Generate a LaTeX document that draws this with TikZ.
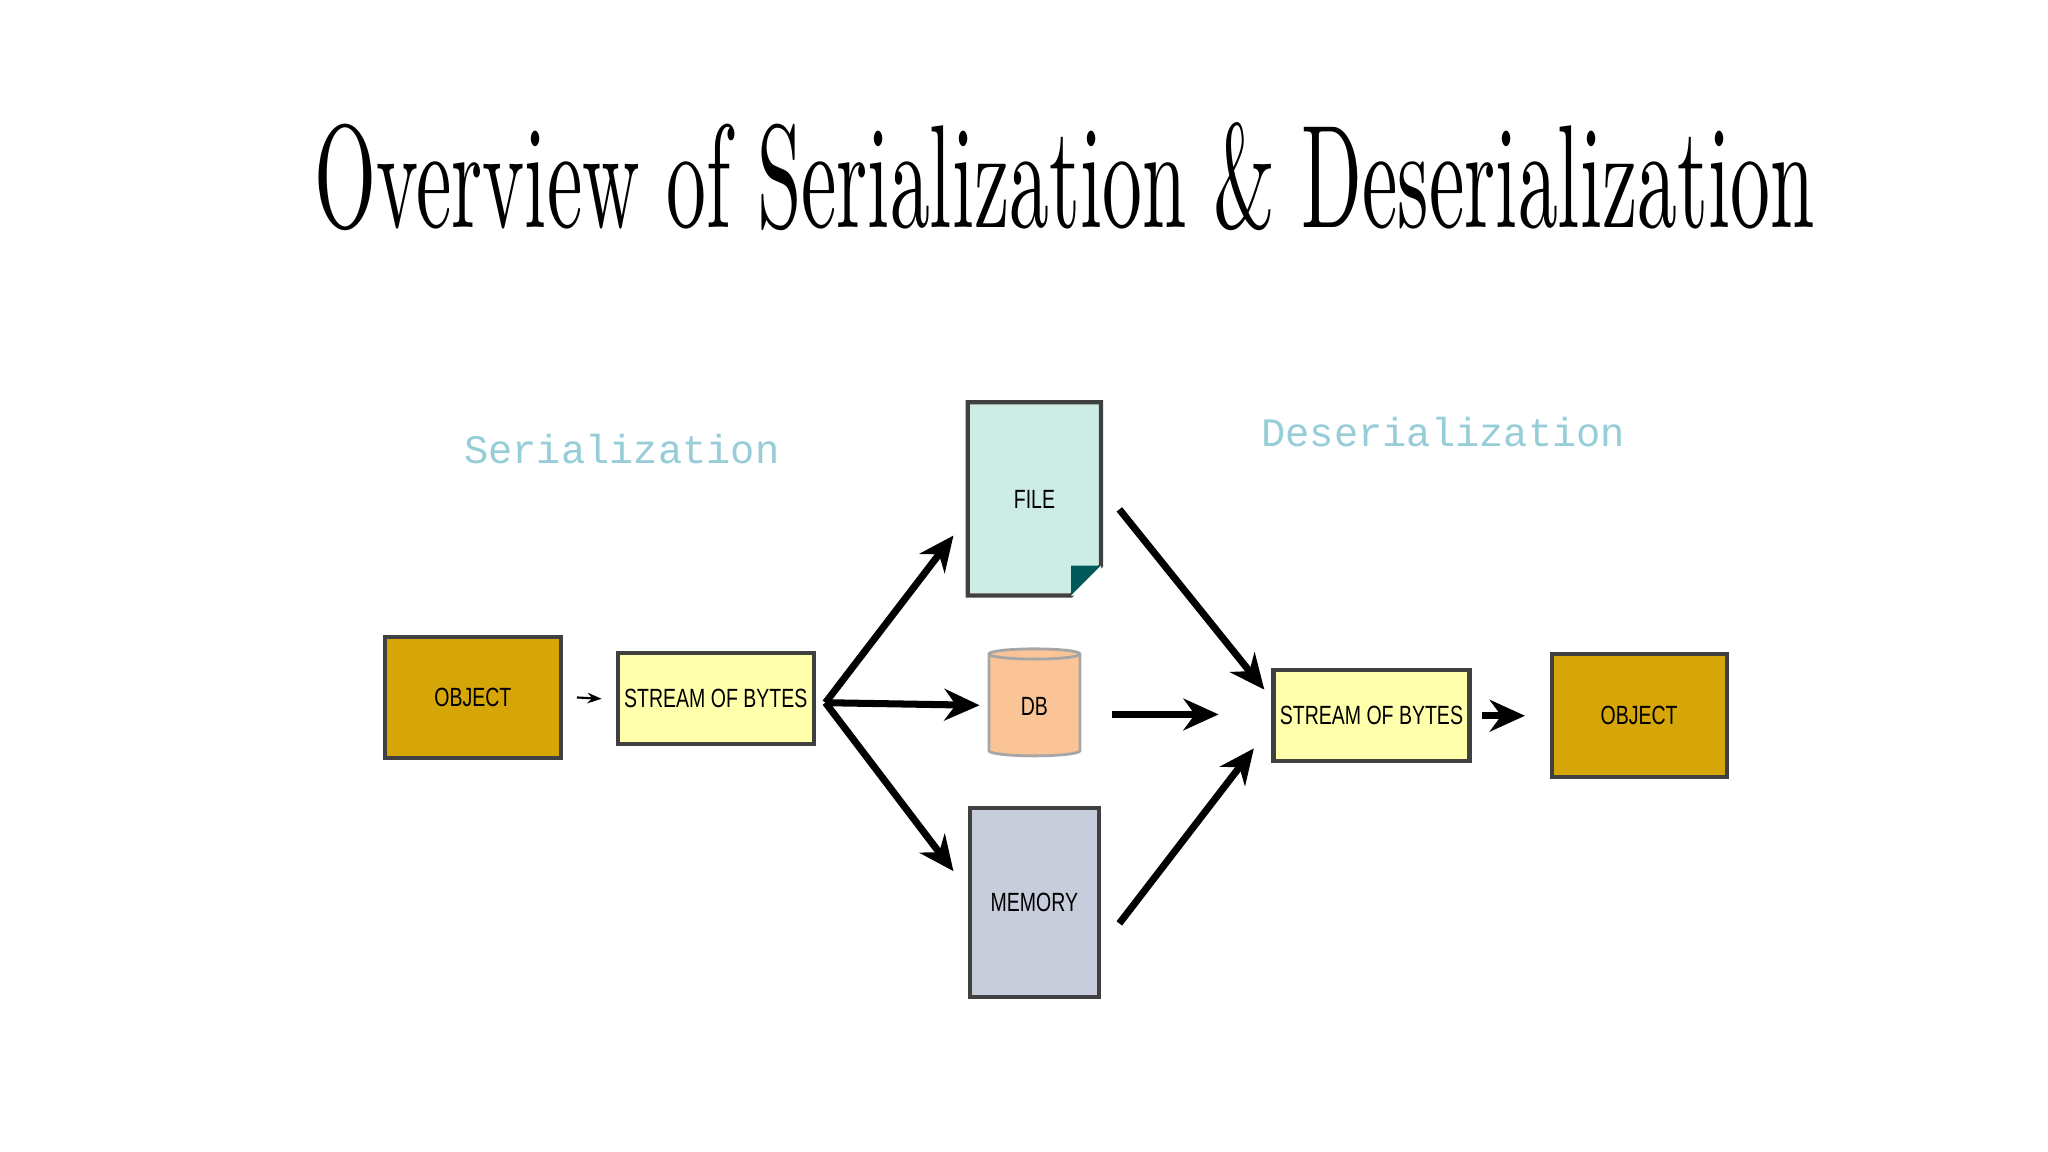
\documentclass[tikz,border=0pt]{standalone}
\usepackage{fontspec}
\setmainfont{Liberation Sans}
\newfontfamily\titlefont{Latin Modern Roman}
\newfontfamily\labelfont{Liberation Mono}
\usetikzlibrary{positioning,shapes.geometric,arrows.meta}
\definecolor{objgold}{RGB}{214,166,8}
\definecolor{streamyel}{RGB}{255,255,172}
\definecolor{filecyan}{RGB}{206,236,230}
\definecolor{dborange}{RGB}{250,196,150}
\definecolor{memgray}{RGB}{200,205,220}
\definecolor{sertext}{RGB}{150,205,215}
\newcommand{\boxtext}[1]{\scalebox{0.74}[1]{#1}}
\tikzset{
  box/.style={rectangle,draw=black!75,line width=1.2pt,inner sep=1pt,font=\fontsize{7.5}{9}\selectfont},
  bigarrow/.style={-{Stealth[length=10pt,width=9pt]},line width=2pt},
  phase/.style={font=\labelfont\fontsize{11.5}{14}\selectfont,text=sertext}
}
\begin{document}
\begin{tikzpicture}[x=0.01306cm,y=-0.01306cm]
	\useasboundingbox (0,0) rectangle (1568,882);
	\fill[white] (0,0) rectangle (1568,882);
	
	\node (title) at (815,135) {\resizebox{15cm}{1.05cm}{\titlefont\textsc{Overview of Serialization \& Deserialization}}};
	
	\begin{scope}
	\node[phase] (ser) at (476,344) {Serialization};
	\node[phase] (deser) at (1105,331) {Deserialization};
	\end{scope}
	
	\begin{scope}
	\node[box,fill=objgold,minimum width=1.76cm,minimum height=1.21cm] (obj1) at (362,534) {\boxtext{OBJECT}};
	\node[box,fill=streamyel,minimum width=1.96cm,minimum height=0.91cm] (stream1) at (548,535) {\boxtext{STREAM OF BYTES}};
	\node[box,fill=filecyan,minimum width=1.29cm,minimum height=1.89cm,draw=none] (file) at (792,382) {\boxtext{FILE}};
	\node[box,cylinder,shape border rotate=90,aspect=0.3,fill=dborange,draw=black!35,line width=0.8pt,minimum width=0.91cm,minimum height=1.07cm] (db) at (792,541) {\boxtext{DB}};
	\node[box,fill=memgray,minimum width=1.29cm,minimum height=1.89cm] (mem) at (792,691) {\boxtext{MEMORY}};
	\node[box,fill=streamyel,minimum width=1.96cm,minimum height=0.91cm] (stream2) at (1050,548) {\boxtext{STREAM OF BYTES}};
	\node[box,fill=objgold,minimum width=1.75cm,minimum height=1.23cm] (obj2) at (1255,548) {\boxtext{OBJECT}};
	\end{scope}
	
	% folded corner of the file
	\draw[black!75,line width=1.2pt] (file.north west) -- (file.north east) -- ([yshift=0.3cm]file.south east)
		-- ([xshift=-0.3cm]file.south east) -- (file.south west) -- cycle;
	\fill[teal!70!black] ([yshift=0.3cm]file.south east) -- ([xshift=-0.3cm]file.south east)
		-- ([xshift=-0.3cm,yshift=0.3cm]file.south east) -- cycle;
	\fill[white] ([yshift=0.3cm]file.south east) -- (file.south east) -- ([xshift=-0.3cm]file.south east) -- cycle;
	
	% arrow ends
	\coordinate (fork) at (632,538);
	\coordinate (toFile) at (730,410);
	\coordinate (toDb) at (750,540);
	\coordinate (toMem) at (730,667);
	\coordinate (fromFile) at (857,390);
	\coordinate (inTop) at (968,528);
	\coordinate (fromDb) at (851,547);
	\coordinate (inMid) at (933,547);
	\coordinate (fromMem) at (857,707);
	\coordinate (inLow) at (960,573);
	
	\begin{scope}
	\draw[-{Stealth[length=4pt]},line width=0.6pt] ([xshift=4pt]obj1.east) -- ([xshift=-4pt]stream1.west);
	\draw[bigarrow] (fork) -- (toFile);
	\draw[bigarrow] (fork) -- (toDb);
	\draw[bigarrow] (fork) -- (toMem);
	\draw[bigarrow] (fromFile) -- (inTop);
	\draw[bigarrow] (fromDb) -- (inMid);
	\draw[bigarrow] (fromMem) -- (inLow);
	\draw[bigarrow,shorten <=3pt,shorten >=7pt] (stream2) -- (obj2);
	\end{scope}
	
\end{tikzpicture}
\end{document}
